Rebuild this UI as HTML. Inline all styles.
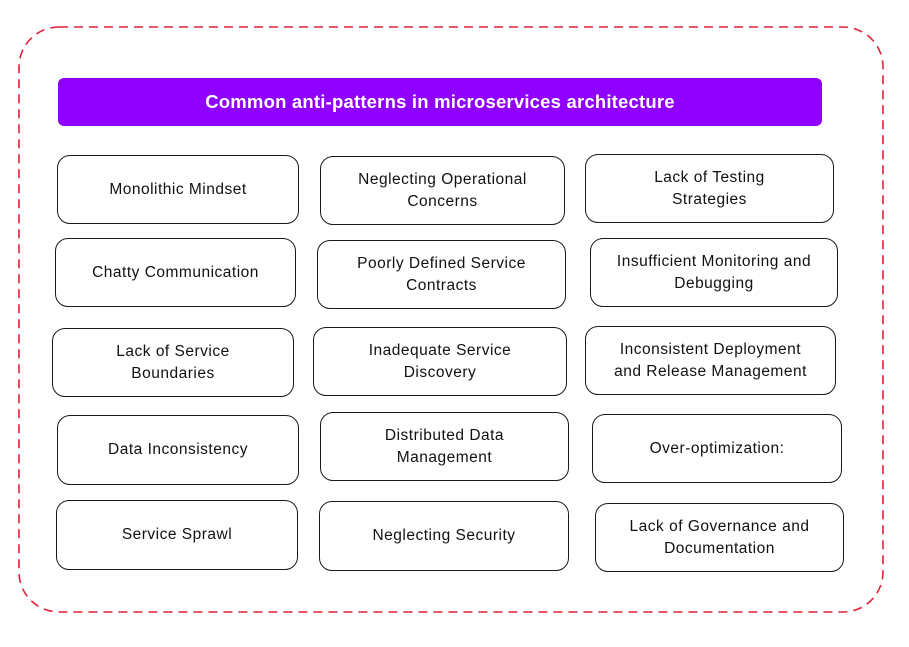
<!DOCTYPE html>
<html><head><meta charset="utf-8"><style>
html,body{margin:0;padding:0;background:#fff;width:909px;height:647px;overflow:hidden;position:relative;font-family:"Liberation Sans",sans-serif}
svg.o{position:absolute;left:0;top:0}
.title{position:absolute;left:58px;top:78px;width:764px;height:48px;background:#9000ff;border-radius:6px;color:#fff;font-size:18.5px;font-weight:bold;display:flex;align-items:center;justify-content:center;letter-spacing:0.2px}
.b{position:absolute;border:1.8px solid #1a1a1a;border-radius:13px;box-sizing:border-box;display:flex;align-items:center;justify-content:center;text-align:center;font-size:15.5px;line-height:22px;color:#111;letter-spacing:0.5px;padding:0 4px}
</style></head><body>
<svg class="o" width="909" height="647"><rect x="19" y="27" width="864" height="585" rx="40" fill="none" stroke="#e0203a" stroke-width="1.6" stroke-dasharray="9 6"/></svg>
<div class="title">Common anti-patterns in microservices architecture</div>
<div class="b" style="left:57px;top:155px;width:242px;height:69px">Monolithic Mindset</div>
<div class="b" style="left:320px;top:156px;width:245px;height:69px">Neglecting Operational<br>Concerns</div>
<div class="b" style="left:585px;top:154px;width:249px;height:69px">Lack of Testing<br>Strategies</div>
<div class="b" style="left:55px;top:238px;width:241px;height:69px">Chatty Communication</div>
<div class="b" style="left:317px;top:240px;width:249px;height:69px">Poorly Defined Service<br>Contracts</div>
<div class="b" style="left:590px;top:238px;width:248px;height:69px">Insufficient Monitoring and<br>Debugging</div>
<div class="b" style="left:52px;top:328px;width:242px;height:69px">Lack of Service<br>Boundaries</div>
<div class="b" style="left:313px;top:327px;width:254px;height:69px">Inadequate Service<br>Discovery</div>
<div class="b" style="left:585px;top:326px;width:251px;height:69px">Inconsistent Deployment<br>and Release Management</div>
<div class="b" style="left:57px;top:415px;width:242px;height:70px">Data Inconsistency</div>
<div class="b" style="left:320px;top:412px;width:249px;height:69px">Distributed Data<br>Management</div>
<div class="b" style="left:592px;top:414px;width:250px;height:69px">Over-optimization:</div>
<div class="b" style="left:56px;top:500px;width:242px;height:70px">Service Sprawl</div>
<div class="b" style="left:319px;top:501px;width:250px;height:70px">Neglecting Security</div>
<div class="b" style="left:595px;top:503px;width:249px;height:69px">Lack of Governance and<br>Documentation</div>
</body></html>
